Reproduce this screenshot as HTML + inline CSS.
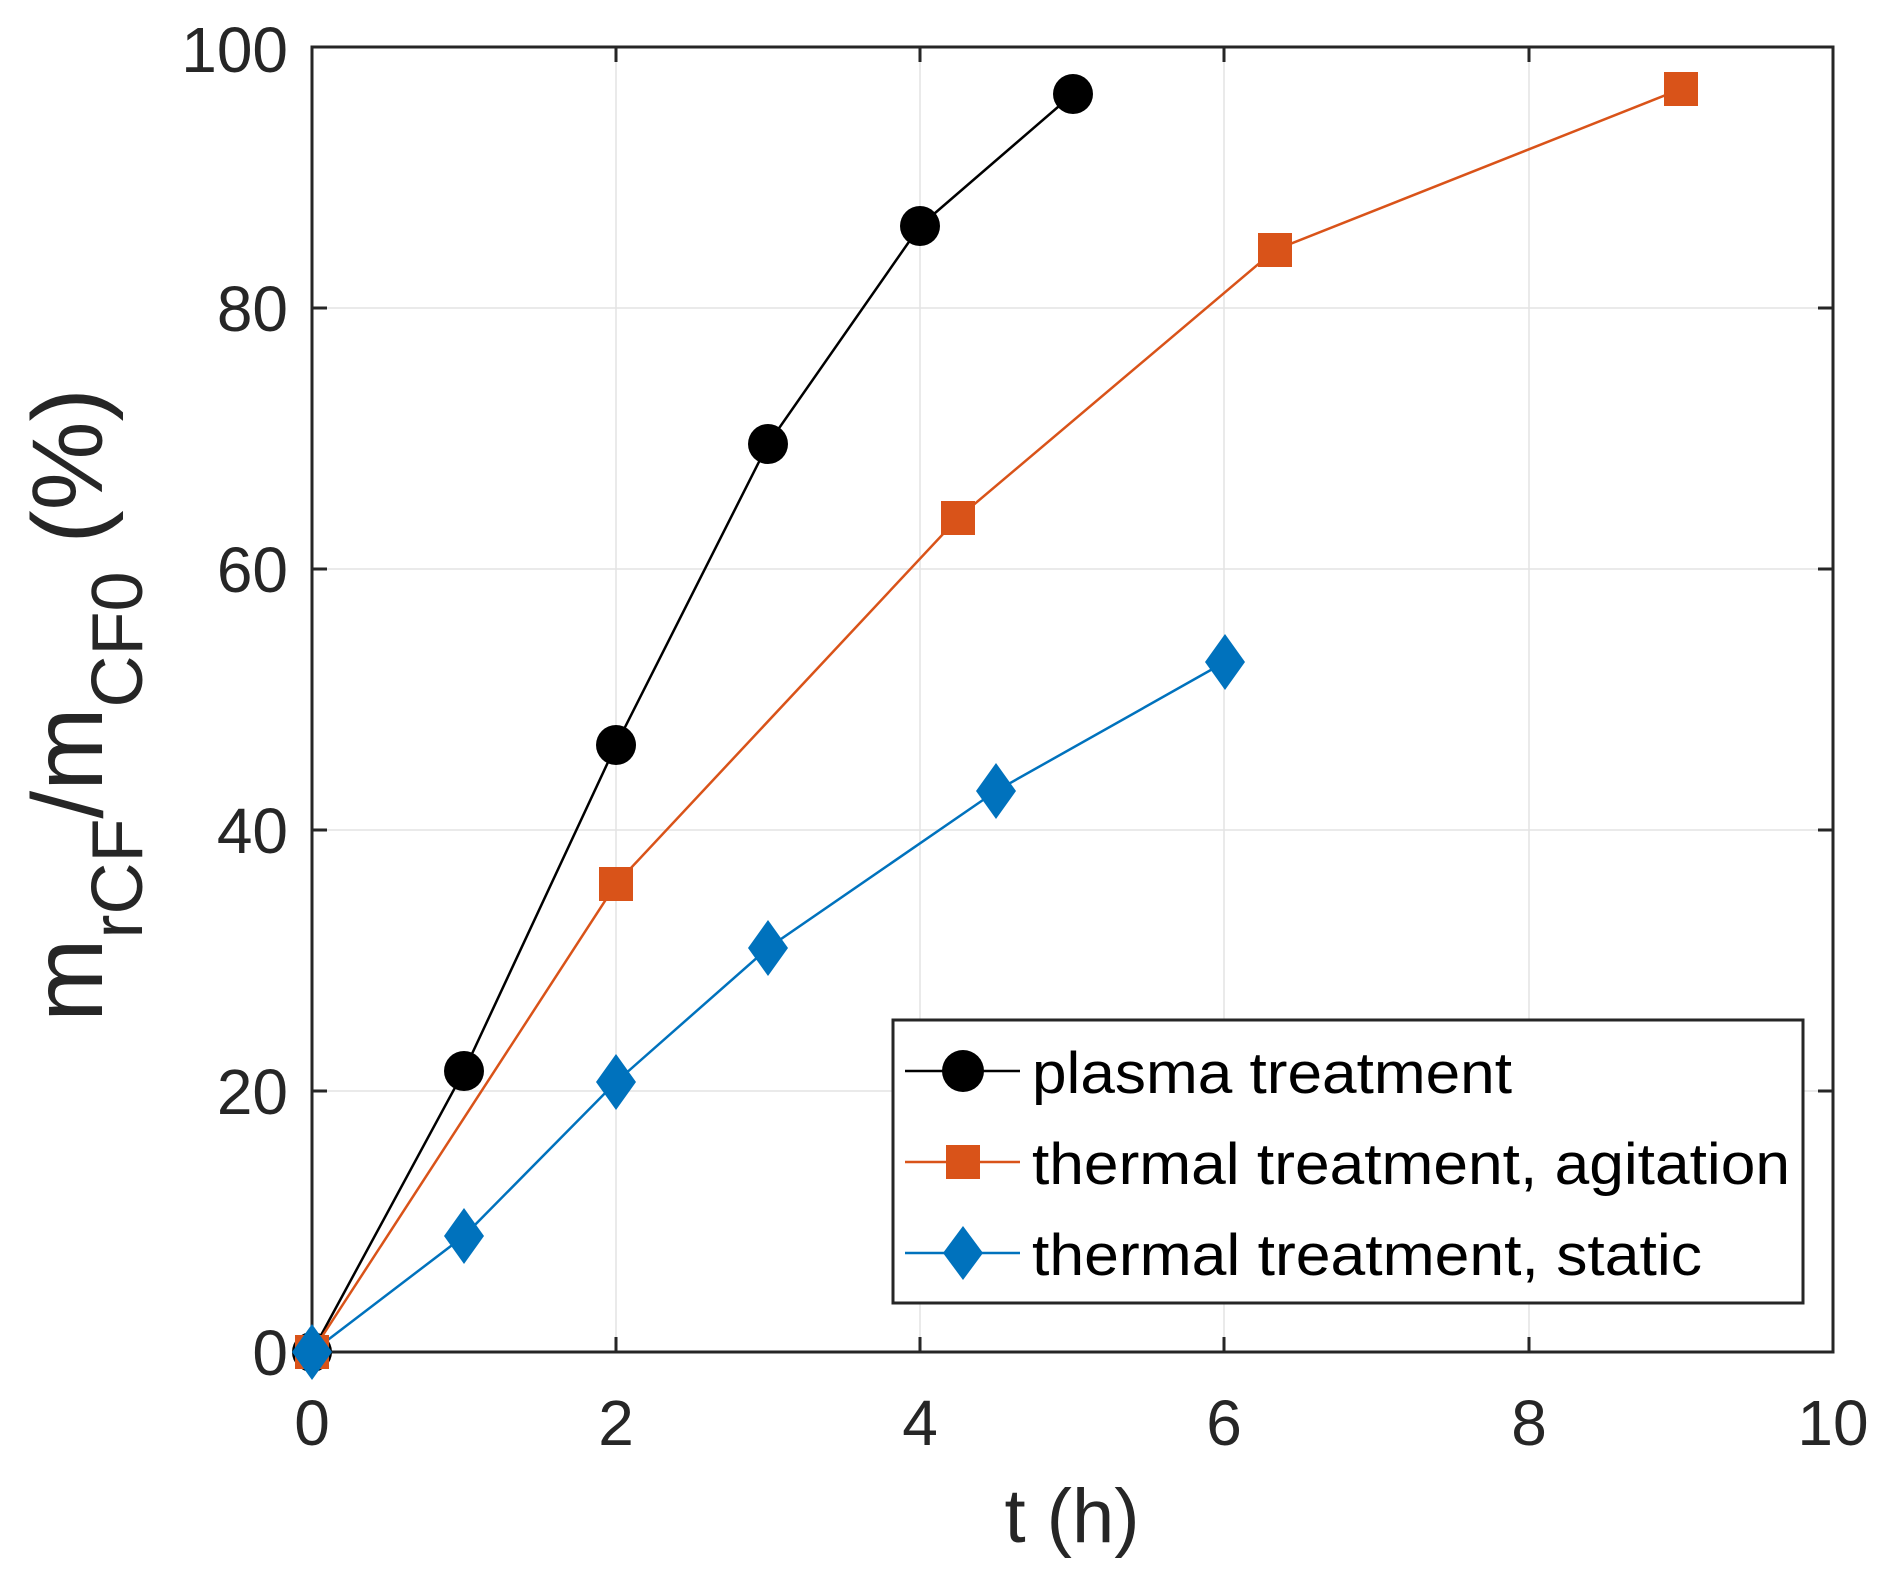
<!DOCTYPE html>
<html><head><meta charset="utf-8"><style>html,body{margin:0;padding:0;background:#fff}svg{display:block}</style></head>
<body>
<svg width="1882" height="1574" viewBox="0 0 1882 1574" xmlns="http://www.w3.org/2000/svg" font-family="Liberation Sans, Arial, sans-serif">
<rect width="1882" height="1574" fill="#fff"/>
<g stroke="#e3e3e3" stroke-width="1.5">
<line x1="616" y1="47" x2="616" y2="1352"/><line x1="920" y1="47" x2="920" y2="1352"/><line x1="1224" y1="47" x2="1224" y2="1352"/><line x1="1529" y1="47" x2="1529" y2="1352"/>
<line x1="312" y1="1091" x2="1833" y2="1091"/><line x1="312" y1="830" x2="1833" y2="830"/><line x1="312" y1="569" x2="1833" y2="569"/><line x1="312" y1="308" x2="1833" y2="308"/>
</g>
<g stroke="#262626" stroke-width="3">
<line x1="616" y1="1352" x2="616" y2="1337"/><line x1="920" y1="1352" x2="920" y2="1337"/><line x1="1224" y1="1352" x2="1224" y2="1337"/><line x1="1529" y1="1352" x2="1529" y2="1337"/>
<line x1="616" y1="47" x2="616" y2="62"/><line x1="920" y1="47" x2="920" y2="62"/><line x1="1224" y1="47" x2="1224" y2="62"/><line x1="1529" y1="47" x2="1529" y2="62"/>
<line x1="312" y1="1091" x2="327" y2="1091"/><line x1="312" y1="830" x2="327" y2="830"/><line x1="312" y1="569" x2="327" y2="569"/><line x1="312" y1="308" x2="327" y2="308"/>
<line x1="1833" y1="1091" x2="1818" y2="1091"/><line x1="1833" y1="830" x2="1818" y2="830"/><line x1="1833" y1="569" x2="1818" y2="569"/><line x1="1833" y1="308" x2="1818" y2="308"/>
<rect x="312" y="47" width="1521" height="1305" fill="none"/>
</g>
<g font-size="64" fill="#262626" text-anchor="end">
<text x="288" y="1375">0</text><text x="288" y="1114">20</text><text x="288" y="853">40</text><text x="288" y="592">60</text><text x="288" y="331">80</text><text x="288" y="72">100</text>
</g>
<g font-size="64" fill="#262626" text-anchor="middle">
<text x="312" y="1445">0</text><text x="616" y="1445">2</text><text x="920" y="1445">4</text><text x="1224" y="1445">6</text><text x="1529" y="1445">8</text><text x="1833" y="1445">10</text>
</g>
<text x="1072" y="1542" font-size="76" fill="#262626" text-anchor="middle">t (h)</text>
<text transform="translate(102,705) rotate(-90)" font-size="100" fill="#262626" text-anchor="middle">m<tspan font-size="72" dy="40">rCF</tspan><tspan dy="-40">/m</tspan><tspan font-size="72" dy="40">CF0</tspan><tspan dy="-40"> (%)</tspan></text>
<!-- series -->
<polyline points="312,1352 464,1071 616,745 768,444 920,226 1073,94" fill="none" stroke="#000" stroke-width="2.5"/>
<polyline points="312,1352 616,884 958,518 1275,250 1681,89" fill="none" stroke="#d95319" stroke-width="2.5"/>
<polyline points="312,1352 464,1236 616,1082 768,948 996,791 1225,662" fill="none" stroke="#0072bd" stroke-width="2.5"/>
<g fill="#000"><circle cx="312" cy="1352" r="20"/><circle cx="464" cy="1071" r="20"/><circle cx="616" cy="745" r="20"/><circle cx="768" cy="444" r="20"/><circle cx="920" cy="226" r="20"/><circle cx="1073" cy="94" r="20"/></g>
<g fill="#d95319"><rect x="295" y="1335" width="34" height="34"/><rect x="599" y="867" width="34" height="34"/><rect x="941" y="501" width="34" height="34"/><rect x="1258" y="233" width="34" height="34"/><rect x="1664" y="72" width="34" height="34"/></g>
<g fill="#0072bd">
<polygon points="312,1324 332,1352 312,1380 292,1352"/><polygon points="464,1208 484,1236 464,1264 444,1236"/><polygon points="616,1054 636,1082 616,1110 596,1082"/><polygon points="768,920 788,948 768,976 748,948"/><polygon points="996,763 1016,791 996,819 976,791"/><polygon points="1225,634 1245,662 1225,690 1205,662"/>
</g>
<!-- legend -->
<rect x="893" y="1020" width="910" height="283" fill="#fff" stroke="#262626" stroke-width="3"/>
<line x1="905" y1="1071" x2="1020" y2="1071" stroke="#000" stroke-width="2.5"/><circle cx="963" cy="1071" r="21" fill="#000"/>
<line x1="905" y1="1162" x2="1020" y2="1162" stroke="#d95319" stroke-width="2.5"/><rect x="946" y="1145" width="34" height="34" fill="#d95319"/>
<line x1="905" y1="1253" x2="1020" y2="1253" stroke="#0072bd" stroke-width="2.5"/><polygon points="963,1226 983,1253 963,1280 943,1253" fill="#0072bd"/>
<g font-size="58" fill="#000">
<text x="1032" y="1093" textLength="480" lengthAdjust="spacingAndGlyphs">plasma treatment</text>
<text x="1032" y="1184" textLength="758" lengthAdjust="spacingAndGlyphs">thermal treatment, agitation</text>
<text x="1032" y="1275" textLength="670" lengthAdjust="spacingAndGlyphs">thermal treatment, static</text>
</g>
</svg>
</body></html>
